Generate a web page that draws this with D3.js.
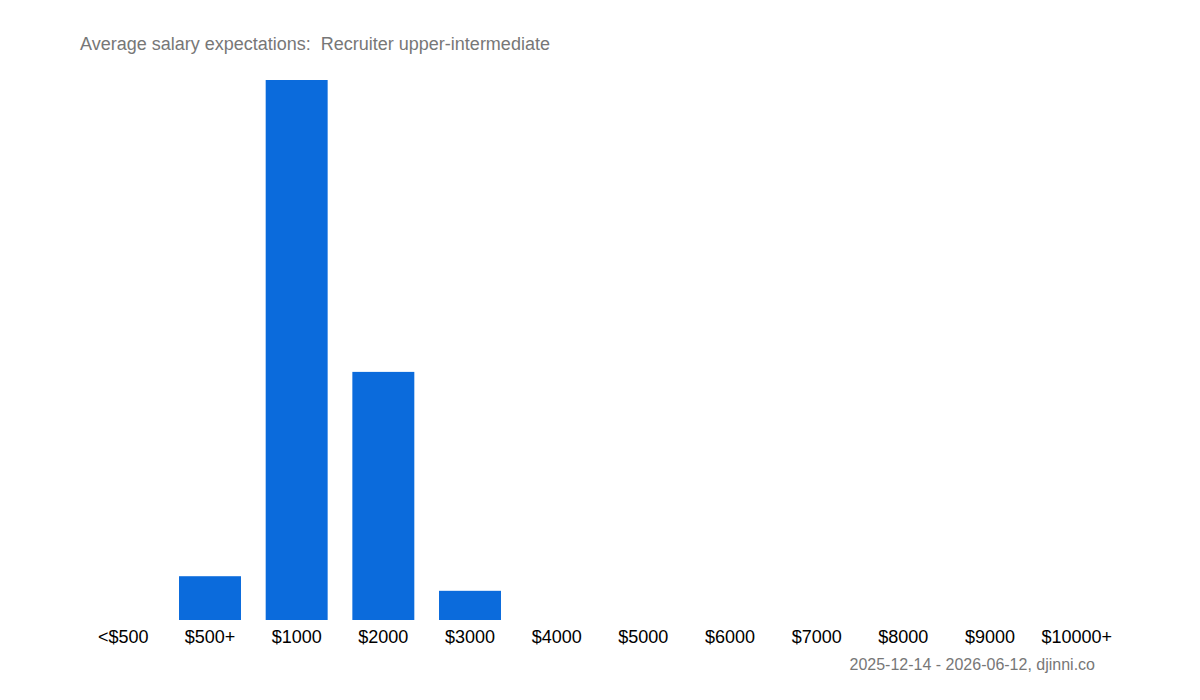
<!DOCTYPE html>
<html>
<head>
<meta charset="utf-8">
<script src="https://cdn.jsdelivr.net/npm/d3@7"></script>
<style>
  body { margin: 0; background: #fff; }
  text { font-family: "Liberation Sans", Arial, sans-serif; white-space: pre; }
</style>
</head>
<body>
<script>
// salary buckets and number of candidates in each
const categories = ["<$500", "$500+", "$1000", "$2000", "$3000", "$4000", "$5000", "$6000", "$7000", "$8000", "$9000", "$10000+"];
const counts = [0, 3, 37, 17, 2, 0, 0, 0, 0, 0, 0, 0];

const title = "Average salary expectations:  Recruiter upper-intermediate";
const footer = "2025-12-14 - 2026-06-12, djinni.co";

const width = 1200, height = 700;

const svg = d3.select("body").append("svg")
    .attr("width", width)
    .attr("height", height);

const x = d3.scaleBand()
    .domain(categories)
    .range([80, 1120])
    .paddingInner(0.285)
    .paddingOuter(0.1425);

const y = d3.scaleLinear()
    .domain([0, d3.max(counts)])
    .range([620, 80]);

svg.append("text")
    .attr("x", 80)
    .attr("y", 50)
    .attr("font-size", 18)
    .attr("fill", "#777")
    .text(title);

svg.selectAll("rect.bar")
    .data(counts)
    .enter()
    .append("rect")
    .attr("class", "bar")
    .attr("x", (d, i) => x(categories[i]))
    .attr("y", d => y(d))
    .attr("width", x.bandwidth())
    .attr("height", d => y(0) - y(d))
    .attr("fill", "#0b6bdc");

const axis = d3.axisBottom(x).tickSize(0).tickPadding(10);
const gx = svg.append("g")
    .attr("transform", "translate(0,620)")
    .call(axis);
gx.select(".domain").remove();
gx.selectAll("text")
    .attr("font-size", 18)
    .attr("font-family", "Liberation Sans, Arial, sans-serif")
    .attr("fill", "#000");

svg.append("text")
    .attr("x", 1095)
    .attr("y", 670)
    .attr("text-anchor", "end")
    .attr("font-size", 16)
    .attr("fill", "#777")
    .text(footer);
</script>
</body>
</html>
